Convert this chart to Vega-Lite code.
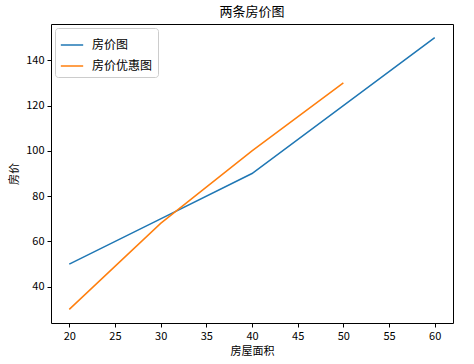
{
  "$schema": "https://vega.github.io/schema/vega-lite/v6.json",
  "width": 402,
  "height": 299,
  "autosize": "none",
  "padding": {"left": 51, "top": 24, "right": 21, "bottom": 41},
  "background": "white",
  "title": {"text": "两条房价图", "font": "Noto Sans CJK SC", "fontSize": 13, "fontWeight": "normal", "color": "#000", "offset": 5},
  "config": {
    "font": "Noto Sans CJK SC",
    "view": {"stroke": "#000", "strokeWidth": 1},
    "axis": {"grid": false, "domain": false, "tickColor": "#000", "tickSize": 4, "labelColor": "#000", "labelFontSize": 11, "labelFont": "Noto Sans CJK SC", "titleFont": "Noto Sans CJK SC", "titleFontSize": 11, "titleFontWeight": "normal", "titleColor": "#000", "labelPadding": 3}
  },
  "data": {"values": [
    {"area": 20, "price": 50, "series": "房价图"},
    {"area": 30, "price": 70, "series": "房价图"},
    {"area": 40, "price": 90, "series": "房价图"},
    {"area": 60, "price": 150, "series": "房价图"},
    {"area": 20, "price": 30, "series": "房价优惠图"},
    {"area": 30, "price": 68, "series": "房价优惠图"},
    {"area": 40, "price": 100, "series": "房价优惠图"},
    {"area": 50, "price": 130, "series": "房价优惠图"}
  ]},
  "mark": {"type": "line", "strokeWidth": 1.5, "clip": true},
  "encoding": {
    "x": {"field": "area", "type": "quantitative", "title": "房屋面积", "scale": {"domain": [18, 62], "nice": false, "zero": false}, "axis": {"values": [20, 25, 30, 35, 40, 45, 50, 55, 60], "titlePadding": 4}},
    "y": {"field": "price", "type": "quantitative", "title": "房价", "scale": {"domain": [24, 156], "nice": false, "zero": false}, "axis": {"values": [40, 60, 80, 100, 120, 140], "titlePadding": 6}},
    "color": {"field": "series", "type": "nominal", "sort": ["房价图", "房价优惠图"], "scale": {"domain": ["房价图", "房价优惠图"], "range": ["#1f77b4", "#ff7f0e"]},
      "legend": {"title": null, "orient": "top-left", "offset": 4, "symbolType": "stroke", "symbolSize": 500, "symbolStrokeWidth": 1.5, "labelFontSize": 12, "labelOffset": 8, "labelColor": "#000", "strokeColor": "#cccccc", "fillColor": "white", "padding": 5, "cornerRadius": 3, "rowPadding": 3}}
  }
}
